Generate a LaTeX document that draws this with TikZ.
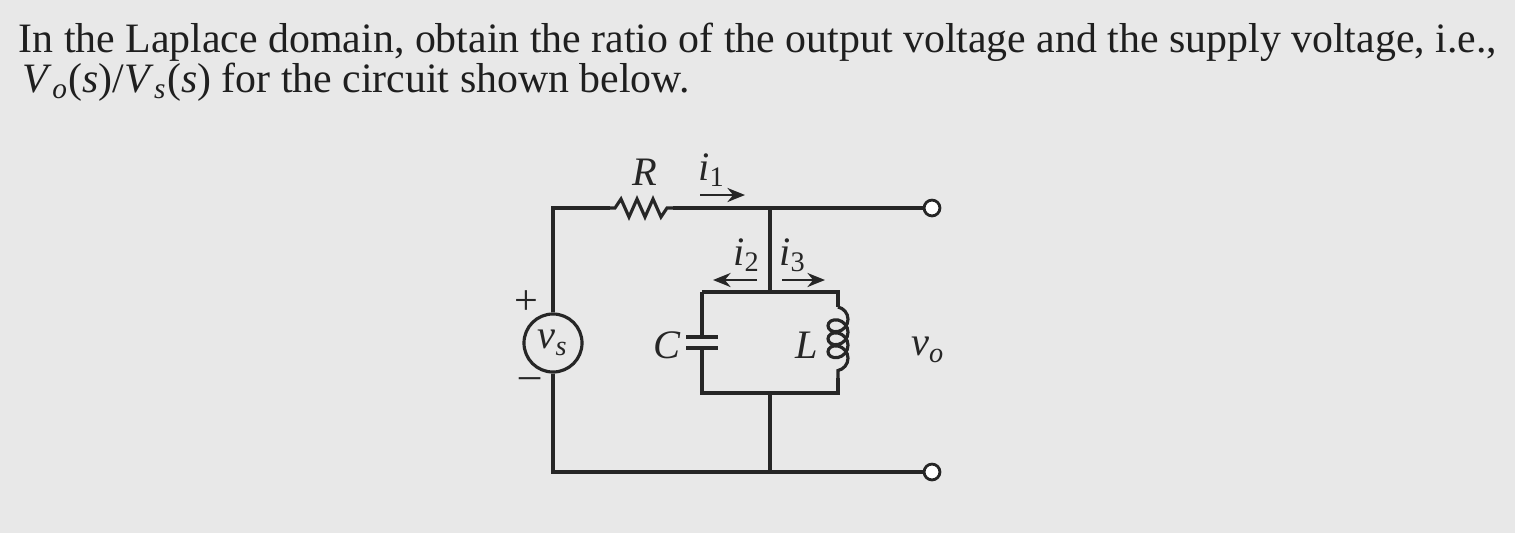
\documentclass[tikz,border=0pt]{standalone}
\usepackage{fontspec}
\setmainfont{Liberation Serif}
\usetikzlibrary{decorations.pathmorphing,arrows.meta}
\begin{document}
\begin{tikzpicture}[x=0.01cm,y=-0.01cm,
  wire/.style={draw=black!85,line width=0.9pt},
  lbl/.style={font=\fontsize{11.5}{12}\selectfont\itshape,text=black!85,inner sep=0pt},
  curarrow/.style={draw=black!85,line width=0.7pt,-{Stealth[length=5pt,width=4pt]}},
  term/.style={circle,draw=black!85,line width=0.8pt,fill=white,inner sep=0pt,minimum size=4.5pt}]
\fill[black!9] (0,0) rectangle (1515,533);
\useasboundingbox (0,0) rectangle (1515,533);
\node[anchor=base west,inner sep=0pt,text=black!88,font=\fontsize{11.9}{12}\selectfont] (t1) at (18,52)
  {In the Laplace domain, obtain the ratio of the output voltage and the supply voltage, i.e.,};
\node[anchor=base west,inner sep=0pt,text=black!88,font=\fontsize{11.9}{12}\selectfont] (t2) at (22,92)
  {\textit{V}\textsubscript{\textit{o}}(\textit{s})/\textit{V}\textsubscript{\textit{s}}(\textit{s}) for the circuit shown below.};
\coordinate (tl) at (553,208);
\coordinate (bl) at (553,472);
\coordinate (r1) at (610,208);
\coordinate (r2) at (673,208);
\coordinate (jt) at (770,208);
\coordinate (jm) at (770,292);
\coordinate (jb) at (770,393);
\coordinate (jbb) at (770,472);
\coordinate (cl) at (702,292);
\coordinate (cr) at (838,292);
\coordinate (bl2) at (702,393);
\coordinate (br2) at (838,393);
\coordinate (c1) at (702,337);
\coordinate (c2) at (702,348);
\coordinate (l1) at (838,307);
\coordinate (l2) at (838,378);
\node[term] (ot) at (932,208) {};
\node[term] (ob) at (932,472) {};
\node[circle,draw=black!85,line width=0.9pt,inner sep=0pt,minimum size=0.58cm] (vs) at (553,343) {};
\node[lbl] at (vs) {v\textsubscript{s}};
\draw[wire] (vs.north) -- (tl) -- (r1);
\draw[wire] (r1) -- ++(5,0) -- ++(6,-9) -- ++(8,18) -- ++(8,-18) -- ++(8,18) -- ++(8,-18) -- ++(8,18) -- ++(6,-9) -- (r2);
\draw[wire] (r2) -- (ot);
\draw[wire] (vs.south) -- (bl) -- (ob);
\draw[wire] (jt) -- (jm);
\draw[wire] (cl) -- (cr) -- (l1);
\draw[wire] (cl) -- (c1);
\draw[wire] (c2) -- (bl2) -- (br2) -- (l2);
\draw[wire] (jb) -- (jbb);
\draw[wire] ([xshift=-16*0.01cm]c1) -- ([xshift=16*0.01cm]c1);
\draw[wire] ([xshift=-16*0.01cm]c2) -- ([xshift=16*0.01cm]c2);
\draw[wire,decorate,decoration={coil,aspect=0.9,segment length=13*0.01cm,amplitude=10*0.01cm}] (l1) -- (l2);
\node[lbl] at (645,172) {R};
\node[lbl] at (712,170) {i\textsubscript{\upshape 1}};
\draw[curarrow] (700,195) -- (745,195);
\node[lbl] at (747,255) {i\textsubscript{\upshape 2}};
\draw[curarrow] (757,280) -- (713,280);
\node[lbl] at (793,255) {i\textsubscript{\upshape 3}};
\draw[curarrow] (782,280) -- (825,280);
\node[lbl] at (667,345) {C};
\node[lbl] at (807,345) {L};
\node[lbl] at (928,350) {v\textsubscript{o}};
\node[lbl,font=\fontsize{12}{12}\selectfont] at (526,303) {+};
\node[lbl,font=\fontsize{12}{12}\selectfont] at (530,383) {–};
\end{tikzpicture}
\end{document}
